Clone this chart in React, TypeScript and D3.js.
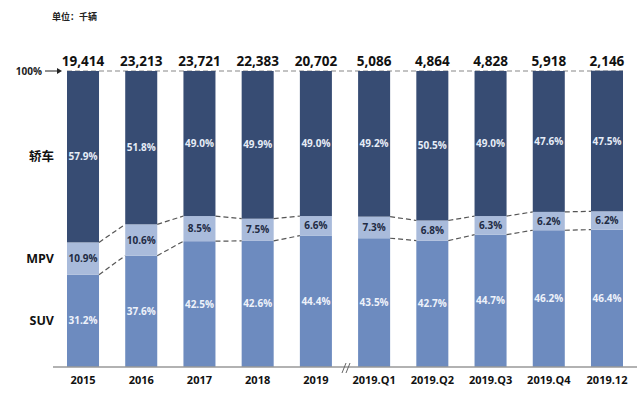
import React from "react";
import * as d3 from "d3";

const categories = ["2015", "2016", "2017", "2018", "2019", "2019.Q1", "2019.Q2", "2019.Q3", "2019.Q4", "2019.12"];
const totals = ["19,414", "23,213", "23,721", "22,383", "20,702", "5,086", "4,864", "4,828", "5,918", "2,146"];
const suv = [31.2, 37.6, 42.5, 42.6, 44.4, 43.5, 42.7, 44.7, 46.2, 46.4];
const mpv = [10.9, 10.6, 8.5, 7.5, 6.6, 7.3, 6.8, 6.3, 6.2, 6.2];
const sedan = [57.9, 51.8, 49.0, 49.9, 49.0, 49.2, 50.5, 49.0, 47.6, 47.5];
const seriesNames = ["SUV", "MPV", "轿车"];
const breakAfter = 4;

const W = 640;
const H = 394;
const FONT = "'Open Sans', 'Noto Sans CJK SC', sans-serif";
const colors = { sedan: "#374c73", mpv: "#a9bbdb", suv: "#6d8bbf" };

export default function App() {
  const x = d3.scaleBand<string>().domain(categories).range([67, 623]).paddingInner(0.45).paddingOuter(0);
  const y = d3.scaleLinear().domain([0, 100]).range([367, 71]);
  const bw = x.bandwidth();

  const rows = categories.map((c, i) => ({ c, i, suv: suv[i], mpv: mpv[i], sedan: sedan[i] }));
  const stack = d3.stack<any>().keys(["suv", "mpv", "sedan"])(rows);

  const fmt = (v: number) => v.toFixed(1) + "%";
  const labelColor: Record<string, string> = { suv: "#eef2fa", mpv: "#1f2b44", sedan: "#e6ecf7" };

  return (
    <svg width={W} height={H} style={{ position: "absolute", left: 0, top: 0, background: "#fff" }} fontFamily={FONT}>
      <text x={52} y={20} fontSize={9} fontWeight={700} fill="#222">单位：千辆</text>

      {/* 100% reference */}
      <text x={42} y={74.5} fontSize={10} fontWeight={700} textAnchor="end" fill="#222">100%</text>
      <line x1={45} x2={59} y1={y(100)} y2={y(100)} stroke="#222" strokeWidth={1} />
      <path d={`M${62},${y(100)} l-5,-3 v6 z`} fill="#222" />
      <line x1={x(categories[0])!} x2={x(categories[categories.length - 1])! + bw} y1={y(100)} y2={y(100)}
        stroke="#888" strokeWidth={1.2} strokeDasharray="5,3" />

      {stack.map((s) => (
        <g key={s.key}>
          {s.map((d, i) => (
            <rect key={i} x={x(categories[i])!} width={bw} y={y(d[1])} height={y(d[0]) - y(d[1])}
              fill={(colors as any)[s.key]} />
          ))}
          {s.map((d, i) => (
            <text key={"t" + i} x={x(categories[i])! + bw / 2} y={(y(d[0]) + y(d[1])) / 2 + 3.5}
              textAnchor="middle" fontSize={10} fontWeight={700} fill={labelColor[s.key]}>
              {fmt((d.data as any)[s.key])}
            </text>
          ))}
        </g>
      ))}

      {/* connectors between adjacent bars */}
      {[0, 1].map((k) =>
        rows.slice(0, -1).map((r, i) => {
          if (i === breakAfter) return null;
          const a = stack[k][i][1];
          const b = stack[k][i + 1][1];
          return (
            <line key={k + "-" + i} x1={x(categories[i])! + bw} x2={x(categories[i + 1])!}
              y1={y(a)} y2={y(b)} stroke="#555" strokeWidth={1.2} strokeDasharray="5,3" />
          );
        })
      )}

      {/* totals */}
      {totals.map((t, i) => (
        <text key={t} x={x(categories[i])! + bw / 2} y={66} textAnchor="middle" fontSize={13.5} fontWeight={700} fill="#111">{t}</text>
      ))}

      {/* axis */}
      <line x1={53} x2={637} y1={y(0)} y2={y(0)} stroke="#999" strokeWidth={1.5} />
      {categories.map((c) => (
        <text key={c} x={x(c)! + bw / 2} y={384} textAnchor="middle" fontSize={11} fontWeight={700} fill="#111">{c}</text>
      ))}
      {/* break mark */}
      <g stroke="#666" strokeWidth={1}>
        <line x1={342} y1={373} x2={346} y2={363} />
        <line x1={346} y1={373} x2={350} y2={363} />
      </g>

      {/* series labels */}
      {seriesNames.map((n, k) => {
        const d = stack[k][0];
        return (
          <text key={n} x={54} y={(y(d[0]) + y(d[1])) / 2 + 4.5} textAnchor="end" fontSize={12.5} fontWeight={700} fill="#111">{n}</text>
        );
      })}
    </svg>
  );
}
